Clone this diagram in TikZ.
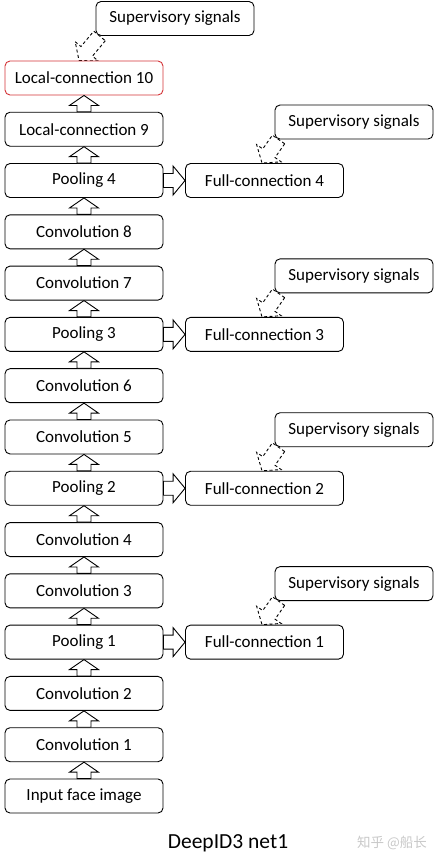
\documentclass[tikz,border=0pt]{standalone}
\usepackage{fontspec}
\setmainfont{Carlito}
\newfontfamily\cjkfont{Noto Sans CJK SC}
\usepackage{tikz}
\usepackage{xcolor}
\usetikzlibrary{calc}
\usetikzlibrary{backgrounds}
\usetikzlibrary{positioning}

\definecolor{lcred}{RGB}{212,52,56}
\definecolor{wmgray}{RGB}{200,200,200}

\tikzset{
  layer/.style={draw, fill=white, rounded corners=5pt, line width=0.9pt,
    minimum width=158pt, minimum height=34pt, inner sep=0pt,
    font=\fontsize{17}{20}\selectfont},
  fat/.style={draw, fill=white, line width=0.9pt},
  fatdash/.style={fat, dashed, dash pattern=on 3pt off 2.5pt}
}

% shaft half width, head half width, head length
\def\fsw{7}
\def\fhw{14.5}
\def\fhl{10}

% hollow block arrow from #2 to #3
\newcommand{\fatarrow}[3][fat]{%
  \draw[#1] let \p1=(#2), \p2=(#3),
    \n1={atan2(\y2-\y1,\x2-\x1)}, \n2={veclen(\x2-\x1,\y2-\y1)} in
    [shift={(\p1)}, rotate=\n1]
    (0,-\fsw) -- ({\n2-\fhl},-\fsw) -- ({\n2-\fhl},-\fhw) -- (\n2,0)
    -- ({\n2-\fhl},\fhw) -- ({\n2-\fhl},\fsw) -- (0,\fsw) -- cycle;}

\begin{document}
\begin{tikzpicture}[x=1pt, y=-1pt]
  \useasboundingbox (0,0) rectangle (439,862);

%%%%%%%%%%%% main column
  \foreach \nm/\txt [count=\k from 0] in {in/Input face image, c1/Convolution 1,
      c2/Convolution 2, p1/Pooling 1, c3/Convolution 3, c4/Convolution 4,
      p2/Pooling 2, c5/Convolution 5, c6/Convolution 6, p3/Pooling 3,
      c7/Convolution 7, c8/Convolution 8, p4/Pooling 4, lc9/Local-connection 9}
    \node[layer] (\nm) at (84, 796-51.29*\k) {\txt};
  \node[layer, draw=lcred] (lc10) at (84, 78) {Local-connection 10};

  \foreach \a/\b in {in/c1, c1/c2, c2/p1, p1/c3, c3/c4, c4/p2, p2/c5, c5/c6,
      c6/p3, p3/c7, c7/c8, c8/p4, p4/lc9, lc9/lc10}
    \fatarrow{\a.north}{\b.south};

%%%%%%%%%%%% side branches
  \foreach \k in {1,...,4} {
    \node[layer] (fc\k) at (264.5, 796-51.29*3*\k) {Full-connection \k};
    \node[layer] (sup\k) at (354, 796-51.29*3*\k-58.5) {Supervisory signals};
    \def\fhl{12}
    \fatarrow{p\k.east}{fc\k.west};
  }
  \node[layer] (sup5) at (175, 18.5) {Supervisory signals};

  \begin{scope}[on background layer]
    \def\fsw{7.5}\def\fhw{15}\def\fhl{12}
    \foreach \k in {1,...,4}
      \fatarrow[fatdash]{$(sup\k.south west)+(4,0)$}{$(fc\k.north)+(-2.5,0)$};
    \fatarrow[fatdash]{$(sup5.south west)+(4,0)$}{$(lc10.north)+(-5,0)$};
  \end{scope}

  \node[font=\fontsize{21.5}{25}\selectfont] (title) at (228, 843) {DeepID3 net1};
  \node[font=\cjkfont\fontsize{13.5}{16}\selectfont, text=wmgray] (mark)
    at (392, 843) {知乎 @船长};
\end{tikzpicture}
\end{document}
